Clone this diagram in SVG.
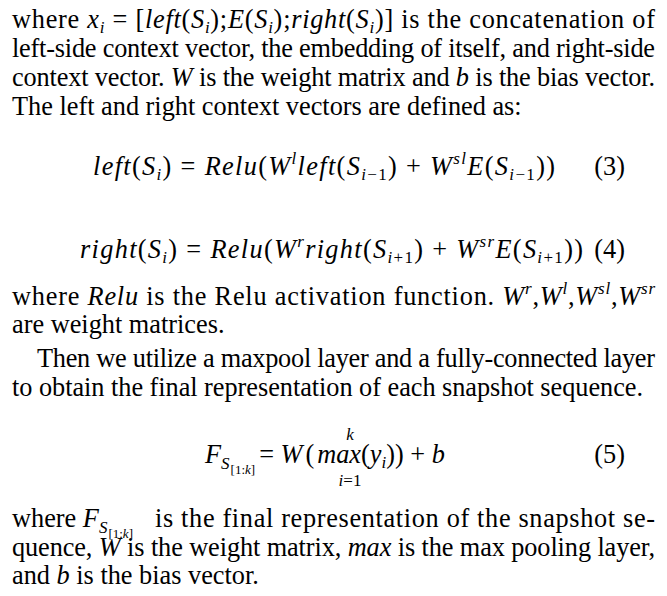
<svg xmlns="http://www.w3.org/2000/svg" width="667" height="596" viewBox="0 0 667 596">
<style>
text{font-family:"Liberation Serif","Times New Roman",serif;font-size:26.3px;fill:#000}
.i{font-style:italic}
.s{font-size:17px}
.t{font-size:13px}
</style>
<rect width="667" height="596" fill="#fff"/>
<text x="12" y="28" textLength="643" lengthAdjust="spacing">where <tspan class="i">x</tspan><tspan class="i s" dy="5">i</tspan><tspan dy="-5"> = [</tspan><tspan class="i">left</tspan>(<tspan class="i">S</tspan><tspan class="i s" dy="5">i</tspan><tspan dy="-5">);</tspan><tspan class="i">E</tspan>(<tspan class="i">S</tspan><tspan class="i s" dy="5">i</tspan><tspan dy="-5">);</tspan><tspan class="i">right</tspan>(<tspan class="i">S</tspan><tspan class="i s" dy="5">i</tspan><tspan dy="-5">)] is the concatenation of</tspan></text>
<text x="12" y="57" textLength="643" lengthAdjust="spacing">left-side context vector, the embedding of itself, and right-side</text>
<text x="12" y="86" textLength="643" lengthAdjust="spacing">context vector. <tspan class="i">W</tspan> is the weight matrix and <tspan class="i">b</tspan> is the bias vector.</text>
<text x="12" y="115">The left and right context vectors are defined as:</text>
<text x="93" y="175" textLength="462" lengthAdjust="spacing"><tspan class="i">left</tspan>(<tspan class="i">S</tspan><tspan class="i s" dy="5">i</tspan><tspan dy="-5">) = </tspan><tspan class="i">Relu</tspan>(<tspan class="i">W</tspan><tspan class="i s" dy="-11">l</tspan><tspan class="i" dy="11">left</tspan>(<tspan class="i">S</tspan><tspan class="s" dy="5"><tspan class="i">i</tspan>−1</tspan><tspan dy="-5">) + </tspan><tspan class="i">W</tspan><tspan class="i s" dy="-11">sl</tspan><tspan class="i" dy="11">E</tspan>(<tspan class="i">S</tspan><tspan class="s" dy="5"><tspan class="i">i</tspan>−1</tspan><tspan dy="-5">))</tspan></text>
<text x="625" y="175" text-anchor="end">(3)</text>
<text x="80" y="258" textLength="503" lengthAdjust="spacing"><tspan class="i">right</tspan>(<tspan class="i">S</tspan><tspan class="i s" dy="5">i</tspan><tspan dy="-5">) = </tspan><tspan class="i">Relu</tspan>(<tspan class="i">W</tspan><tspan class="i s" dy="-11">r</tspan><tspan class="i" dy="11">right</tspan>(<tspan class="i">S</tspan><tspan class="s" dy="5"><tspan class="i">i</tspan>+1</tspan><tspan dy="-5">) + </tspan><tspan class="i">W</tspan><tspan class="i s" dy="-11">sr</tspan><tspan class="i" dy="11">E</tspan>(<tspan class="i">S</tspan><tspan class="s" dy="5"><tspan class="i">i</tspan>+1</tspan><tspan dy="-5">))</tspan></text>
<text x="625" y="258" text-anchor="end">(4)</text>
<text x="12" y="305" textLength="643" lengthAdjust="spacing">where <tspan class="i">Relu</tspan> is the Relu activation function. <tspan class="i">W</tspan><tspan class="i s" dy="-11">r</tspan><tspan dy="11">,</tspan><tspan class="i">W</tspan><tspan class="i s" dy="-11">l</tspan><tspan dy="11">,</tspan><tspan class="i">W</tspan><tspan class="i s" dy="-11">sl</tspan><tspan dy="11">,</tspan><tspan class="i">W</tspan><tspan class="i s" dy="-11">sr</tspan></text>
<text x="12" y="333">are weight matrices.</text>
<text x="37" y="367" textLength="618" lengthAdjust="spacing">Then we utilize a maxpool layer and a fully-connected layer</text>
<text x="12" y="396" textLength="631" lengthAdjust="spacing">to obtain the final representation of each snapshot sequence.</text>
<text x="205" y="463"><tspan class="i">F</tspan><tspan class="i s" dy="6">S</tspan><tspan class="t" dy="5" dx="1">[1:<tspan class="i">k</tspan>]</tspan><tspan dy="-11" dx="4">= </tspan><tspan class="i">W</tspan><tspan dx="3">(</tspan><tspan class="i" dx="3">max</tspan>(<tspan class="i">y</tspan><tspan class="i s" dy="5">i</tspan><tspan dy="-5">)) + </tspan><tspan class="i">b</tspan></text>
<text x="350" y="440" class="i s" text-anchor="middle">k</text>
<text x="350" y="486" class="s" text-anchor="middle"><tspan class="i">i</tspan>=1</text>
<text x="625" y="463" text-anchor="end">(5)</text>
<text x="12" y="527">where <tspan class="i">F</tspan><tspan class="i s" dy="6">S</tspan><tspan class="t" dy="5" dx="1">[1:<tspan class="i">k</tspan>]</tspan></text>
<text x="655" y="527" text-anchor="end" textLength="500" lengthAdjust="spacing">is the final representation of the snapshot se-</text>
<text x="12" y="556" textLength="643" lengthAdjust="spacing">quence, <tspan class="i">W</tspan> is the weight matrix, <tspan class="i">max</tspan> is the max pooling layer,</text>
<text x="12" y="584">and <tspan class="i">b</tspan> is the bias vector.</text>
</svg>
